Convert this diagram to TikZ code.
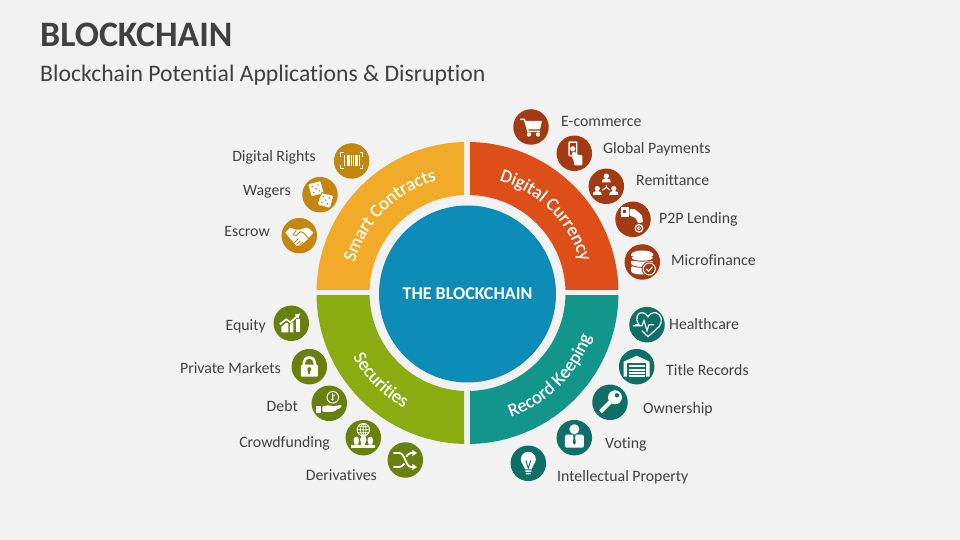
\documentclass[tikz,border=0pt]{standalone}
\usepackage{fontspec}
\setmainfont[Ligatures=NoCommon]{Carlito}
\newfontfamily\bandfont[Ligatures=NoCommon,FakeBold=0.35]{Carlito}
\usetikzlibrary{decorations.text,arrows.meta}
\definecolor{bgc}{HTML}{F2F2F2}
\definecolor{inkc}{HTML}{404040}
\definecolor{redb}{HTML}{DE4E18}
\definecolor{redi}{HTML}{A23A13}
\definecolor{ambb}{HTML}{F1AB28}
\definecolor{ambi}{HTML}{C4860F}
\definecolor{grnb}{HTML}{8AAC10}
\definecolor{grni}{HTML}{68810E}
\definecolor{teab}{HTML}{12958A}
\definecolor{teai}{HTML}{0E6F66}
\definecolor{blub}{HTML}{0E8CB8}
\tikzset{
  x=1pt,y=1pt,
  iconbase/.style={circle,minimum size=35.5pt,inner sep=0pt,fill=#1},
  lab/.style={font=\fontsize{15.8}{15.8}\selectfont,text=inkc,inner sep=0pt},
  labl/.style={lab,anchor=base west},
  labr/.style={lab,anchor=base east},
  wl/.style={draw=white,line width=#1,fill=none},
  wl/.default=1.2,
  curved/.style={decorate,decoration={text along path,text align=center,
     text={|\bandfont\fontsize{18.5}{18.5}\selectfont\color{white}|#1}}}
}
% --- icons, drawn about the origin
\newcommand\icCart{%
 \draw[wl=1.5] (-11,7.5)--(-6.5,7.5)--(-3,-4.5)--(9,-4.5);
 \fill[white] (-5.5,6)--(11,6)--(9,-2.5)--(-3.2,-2.5)--cycle;
 \fill[white] (-2,-7.5) circle (2.2) (7,-7.5) circle (2.2);}
\newcommand\icPay[1]{%
 \fill[white,rounded corners=1] (-6,-3) rectangle (3,12);
 \fill[#1] (-4.6,-1.5) rectangle (1.6,10.5);
 \fill[white] (-1.5,4.5) circle (2.6);
 \fill[white,rounded corners=1] (-2,1)--(1,2)--(1.5,-1)--(8,-2)--(8,-12)--(0,-12)--(-1,-6)--(-3,-3)--cycle;}
\newcommand\icPers[1]{\begin{scope}[shift={(#1)}]
 \fill[white] (0,3.2) circle (2.6);
 \fill[white] (-4.5,-3.2)--(-3.8,-.3)--(-1,.8)--(1,.8)--(3.8,-.3)--(4.5,-3.2)--cycle;\end{scope}}
\newcommand\icNet{%
 \icPers{0,7}\icPers{-9,-5.5}\icPers{7.5,-5.5}
 \draw[wl=1] (0,1)--(0,-1)--(-4,-4) (0,-1)--(3.5,-3.5);}
\newcommand\icHandCard[1]{%
 \fill[white] (-12,2.5) rectangle (-4.5,12);
 \fill[#1] (-10,6.5) rectangle (-7.5,9);
 \fill[white,rounded corners=1] (-3.5,10.5)--(2,10)--(9,4)--(10,-3)--(5,-4)--(3,1)--(-1,3)--(-3.5,3.5)--cycle;
 \draw[wl=1.2] (6,-9) circle (3.8);
 \draw[wl=.8] (6,-9) circle (1.6);}
\newcommand\icDb[1]{%
 \foreach \yy in {-6,0}{\fill[white] (-11,\yy-3.5) rectangle (11,\yy+1);
   \fill[white] (0,\yy-3.5) ellipse (11 and 3);}
 \fill[white] (-11,6) rectangle (11,7.5);
 \fill[white] (0,7.5) ellipse (11 and 4);
 \fill[white] (0,3.5) ellipse (11 and 3);
 \draw[#1,line width=.9] (-11,3.8) arc (180:360:11 and 3);
 \draw[#1,line width=.9] (-11,-2.4) arc (180:360:11 and 3);
 \fill[#1] (7,-7) circle (7.6);
 \draw[wl=1] (7,-7) circle (6);
 \draw[wl=1.2] (4,-7)--(6.2,-9.2)--(10,-5);}
\newcommand\icHeart{%
 \draw[wl=1.2] (-12,0)--(-8,0) .. controls (-13,7) and (-9,13) .. (-4,12) .. controls (-1.5,11.5) and (0,9.5) .. (1,8)
   .. controls (2,10) and (5,12.5) .. (9,12) .. controls (15,10) and (16,3) .. (12,-2) -- (1,-12) -- (-5,-6);
 \draw[wl=1.2] (-14,-1)--(-5,-1)--(-3,4)--(0,-6)--(2,0)--(7,0);}
\newcommand\icGar[1]{%
 \fill[white] (-13,-10)--(-13,5)--(0,11)--(13,5)--(13,-10)--cycle;
 \fill[#1] (-9.5,-10) rectangle (9.5,3.5);
 \foreach \yy in {1.5,-2,-5.5}{\fill[white] (-8,\yy-2) rectangle (8,\yy);}
 \fill[white] (-8,-10) rectangle (8,-8.5);}
\newcommand\icKey[1]{%
 \draw[wl=4] (3,3)--(-9.5,-9.5);
 \fill[white] (5,5) circle (7);
 \fill[#1] (7,7) circle (2.2);}
\newcommand\icMan[1]{%
 \fill[white] (0,8.5) circle (5);
 \fill[white,rounded corners=1.5] (-9.5,-10) rectangle (9.5,3);
 \fill[#1] (-1.4,3)--(1.4,3)--(.8,0)--(1.5,-5)--(0,-7)--(-1.5,-5)--(-.8,0)--cycle;}
\newcommand\icBulb[1]{%
 \fill[white] (0,4) circle (7.5);
 \fill[white] (-5.5,-1)--(5.5,-1)--(3.2,-6)--(-3.2,-6)--cycle;
 \fill[white] (-3,-7) rectangle (3,-8.5) (-2.5,-9.5) rectangle (2.5,-11);
 \draw[#1,line width=.9] (-2.5,3)--(0,-5)--(2.5,3);}
\newcommand\icShuf{%
 \draw[wl=1.8,-{Latex[length=5,width=7]}] (-12,7) -- (-6,7) .. controls (0,7) and (0,-7) .. (6,-7) -- (12,-7);
 \draw[wl=1.8,-{Latex[length=5,width=7]}] (1,3.5) .. controls (3,6) and (4,7) .. (6,7) -- (12,7);
 \draw[wl=1.8] (-12,-7) -- (-6,-7) .. controls (-4,-7) and (-3,-6) .. (-1,-3.5);}
\newcommand\icCoin{%
 \draw[wl=1] (3.5,6) circle (5.8);
 \draw[wl=1] (5.5,8) .. controls (4,9.5) and (1.8,8) .. (3.5,6) .. controls (5.2,4) and (3,2.5) .. (1.5,4);
 \draw[wl=.8] (3.5,2.2)--(3.5,9.8);
 \fill[white] (-13,-9.5) rectangle (-8,-2.5);
 \fill[white,rounded corners=1] (-7,-8.5)--(-7,-3)--(-1,-2)--(4,-3)--(12,-1.5)--(12.5,-3.5)--(4,-8.5)--cycle;}
\newcommand\icCrowd{%
 \draw[wl=1] (0,8) circle (6.2);
 \draw[wl=.7] (0,8) ellipse (2.8 and 6.2) (-6.2,8)--(6.2,8) (-5.4,11)--(5.4,11) (-5.4,5)--(5.4,5) (0,1.8)--(0,14.2);
 \fill[white] (0,-2) ellipse (3.2 and 4.2);
 \fill[white] (-7,-2.5) ellipse (2.8 and 3.6) (7,-2.5) ellipse (2.8 and 3.6);
 \fill[white] (-2,-7) rectangle (2,-4);
 \fill[white] (-9,-7) rectangle (-5,-4) (5,-7) rectangle (9,-4);
 \fill[white] (-12,-10) rectangle (12,-7.5);}
\newcommand\icLock[1]{%
 \draw[wl=2.6] (-5.5,1) -- (-5.5,4) arc (180:0:5.5) -- (5.5,1);
 \fill[white,rounded corners=1] (-8.5,-10) rectangle (8.5,2);
 \fill[#1] (0,-2.5) circle (2);
 \fill[#1] (-1,-7) rectangle (1,-2.5);}
\newcommand\icChart{%
 \draw[wl=1.7,-{Latex[length=5,width=6]}] (-11.5,-1)--(-5,4)--(-1,1)--(9,10);
 \fill[white] (-10,-9)--(-10,-3.5)--(-5,.7)--(-3,-.5)--(-3,-9)--cycle;
 \fill[white] (-1.5,-9)--(-1.5,-1)--(2,1.5)--(2,-9)--cycle;
 \fill[white] (4.5,-9) rectangle (9,4);}
\newcommand\icBar{%
 \draw[wl=1] (-8,8)--(-11,8)--(-11,4) (8,8)--(11,8)--(11,4) (-8,-8)--(-11,-8)--(-11,-4) (8,-8)--(11,-8)--(11,-4);
 \foreach \xx/\ww in {-7.5/1.2,-5.2/.7,-3.4/1.6,-.8/.7,.8/1.2,3/.7,4.6/1.6,7/.7}{\fill[white] (\xx,-5.5) rectangle ++(\ww,11);}}
\newcommand\icDice[1]{%
 \foreach \cx/\cy/\rr in {-4/6/15,5.5/-5.5/-15}{
  \begin{scope}[shift={(\cx,\cy)},rotate=\rr]
   \fill[white,rounded corners=1] (-6.2,-6.2) rectangle (6.2,6.2);
   \foreach \a/\b in {-3/-3,3/3,-3/3,3/-3,0/0}{\fill[#1] (\a,\b) circle (.9);}
  \end{scope}}
 \draw[#1,line width=.9] (-.8,-3.2) -- (2,2) -- (8,.4);}
\newcommand\icShake[1]{%
 \fill[white] (-14,3)--(-9,8)--(-3,6)--(1,6)--(6,8)--(10,7)--(14,3)--(9,-3)--(1,-10)--(-3,-10)--(-9,-3)--cycle;
 \draw[#1,line width=.9] (-3,5.5)--(-6,1)--(-3,0)--(1,4)--(4,3)--(9.5,-3);
 \draw[#1,line width=.8] (-5,-7)--(-1.5,-3.5) (-2.5,-8.5)--(1,-5) (0,-10)--(3.5,-6.5);}
\newcommand\ringpart[3]{% colour, clip corners
 \begin{scope}\clip (#2) rectangle (#3);
  \fill[#1,even odd rule] (467.5,247) circle (151) (467.5,247) circle (98);
 \end{scope}}
\newcommand\ic[4]{% name, x,y(up), colour
 \node[iconbase=#4] (#1) at (#2,#3) {};}
\begin{document}
\begin{tikzpicture}
\fill[bgc] (0,0) rectangle (960,540);
\useasboundingbox (0,0) rectangle (960,540);
% titles
\node[anchor=base west,inner sep=0pt,text=inkc,font=\fontsize{35.8}{35.8}\selectfont\bfseries] (title) at (40,493) {BLOCKCHAIN};
\node[anchor=base west,inner sep=0pt,text=inkc,font=\fontsize{23.7}{23.7}\selectfont] (sub) at (40,458.5) {Blockchain Potential Applications \& Disruption};
% ring
\ringpart{redb}{470,250}{640,420}
\ringpart{ambb}{300,250}{464,420}
\ringpart{grnb}{300,80}{464,244.5}
\ringpart{teab}{470,80}{640,244.5}
\node[circle,fill=blub,minimum size=177pt,inner sep=0pt,text=white,font=\fontsize{18}{18}\selectfont\bfseries] (hub) at (467.5,246) {THE BLOCKCHAIN};
% curved band labels
\path[curved={Digital Currency}] (467.5,364) arc (90:0:117);
\path[curved={Smart Contracts}] (350.5,247) arc (180:90:117);
\path[curved={Record Keeping}] (467.5,116) arc (270:360:131);
\path[curved={Securities}] (336.5,247) arc (180:270:131);
% icons: digital currency
\ic{a1}{531}{413}{redi} \begin{scope}[shift={(a1.center)}]\icCart\end{scope}
\ic{a2}{574.3}{386.7}{redi} \begin{scope}[shift={(a2.center)}]\icPay{redi}\end{scope}
\ic{a3}{606.3}{353.7}{redi} \begin{scope}[shift={(a3.center)}]\icNet\end{scope}
\ic{a4}{633}{320.7}{redi} \begin{scope}[shift={(a4.center)}]\icHandCard{redi}\end{scope}
\ic{a5}{642.3}{278}{redi} \begin{scope}[shift={(a5.center)}]\icDb{redi}\end{scope}
% record keeping
\ic{b1}{647}{215.3}{teai} \begin{scope}[shift={(b1.center)}]\icHeart\end{scope}
\ic{b2}{636.7}{173.3}{teai} \begin{scope}[shift={(b2.center)}]\icGar{teai}\end{scope}
\ic{b3}{610}{137.7}{teai} \begin{scope}[shift={(b3.center)}]\icKey{teai}\end{scope}
\ic{b4}{574.3}{102.3}{teai} \begin{scope}[shift={(b4.center)}]\icMan{teai}\end{scope}
\ic{b5}{528.3}{76.7}{teai} \begin{scope}[shift={(b5.center)}]\icBulb{teai}\end{scope}
% securities
\ic{c1}{291.3}{216.7}{grni} \begin{scope}[shift={(c1.center)}]\icChart\end{scope}
\ic{c2}{309.3}{173.3}{grni} \begin{scope}[shift={(c2.center)}]\icLock{grni}\end{scope}
\ic{c3}{329.3}{136.7}{grni} \begin{scope}[shift={(c3.center)}]\icCoin\end{scope}
\ic{c4}{363.3}{102.3}{grni} \begin{scope}[shift={(c4.center)}]\icCrowd\end{scope}
\ic{c5}{405.3}{80}{grni} \begin{scope}[shift={(c5.center)}]\icShuf\end{scope}
% smart contracts
\ic{d1}{351.7}{379}{ambi} \begin{scope}[shift={(d1.center)}]\icBar\end{scope}
\ic{d2}{320}{345.3}{ambi} \begin{scope}[shift={(d2.center)}]\icDice{ambi}\end{scope}
\ic{d3}{299.3}{304.3}{ambi} \begin{scope}[shift={(d3.center)}]\icShake{ambi}\end{scope}
% labels
\node[labl] (la1) at (561,413) {E-commerce};
\node[labl] (la2) at (603,386) {Global Payments};
\node[labl] (la3) at (636,354) {Remittance};
\node[labl] (la4) at (659,316) {P2P Lending};
\node[labl] (la5) at (671,274) {Microfinance};
\node[labl] (lb1) at (669,210) {Healthcare};
\node[labl] (lb2) at (666,164) {Title Records};
\node[labl] (lb3) at (643,126) {Ownership};
\node[labl] (lb4) at (605,91) {Voting};
\node[labl] (lb5) at (557,58) {Intellectual Property};
\node[labr] (lc1) at (266,209) {Equity};
\node[labr] (lc2) at (281,166) {Private Markets};
\node[labr] (lc3) at (298,128) {Debt};
\node[labr] (lc4) at (330,92) {Crowdfunding};
\node[labr] (lc5) at (377,59) {Derivatives};
\node[labr] (ld1) at (316,378) {Digital Rights};
\node[labr] (ld2) at (291,344) {Wagers};
\node[labr] (ld3) at (270,303) {Escrow};
\end{tikzpicture}
\end{document}
